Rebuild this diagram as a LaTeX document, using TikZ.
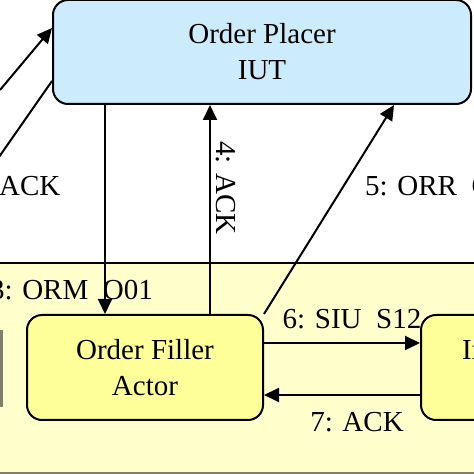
\documentclass[tikz,border=0pt]{standalone}
\usepackage{fontspec}
\setmainfont{Liberation Serif}
\usetikzlibrary{arrows.meta}
\begin{document}
\begin{tikzpicture}[x=1pt,y=1pt,
  every node/.style={font=\fontsize{29}{36}\selectfont},
  actor/.style={draw=neutralcolor,line width=2pt,rounded corners=15pt,align=center,inner sep=0pt},
  msg/.style={draw=neutralcolor,line width=2pt,-{Triangle[length=15pt,width=14pt]}},
  wire/.style={draw=neutralcolor,line width=2pt},
  msglabel/.style={inner sep=0pt}]
\definecolor{neutralcolor}{RGB}{0,0,0}
\definecolor{placercolor}{RGB}{204,236,251}
\definecolor{fillercolor}{RGB}{255,255,153}
\definecolor{background}{RGB}{255,255,204}
\definecolor{edgecolor}{RGB}{128,128,104}
\useasboundingbox (0,0) rectangle (474,474);
\fill [background] (0,0) rectangle (474,211);
\draw [wire] (0,211) -- (474,211);
\draw [edgecolor,line width=2.4pt] (0,1) -- (474,1);
\fill [edgecolor] (0,67) rectangle (3,144);
\node [actor,fill=placercolor,minimum width=418pt,minimum height=104pt] (placer) at (262,422) {Order Placer\\IUT};
\node [actor,fill=fillercolor,minimum width=236pt,minimum height=105pt] (filler) at (145,106.5) {Order Filler\\Actor};
\node [actor,fill=fillercolor,minimum width=236pt,minimum height=105pt] (manager) at (539,106.5) {};
\node [msglabel,anchor=west] (managertext) at (462,124) {Im};
\coordinate (ormx) at (105,0);
\coordinate (ackx) at (210,0);
\coordinate (orrx) at (394,0);
\coordinate (siuy) at (0,131);
\coordinate (acky) at (0,79);
\coordinate (lefta) at (0,384);
\coordinate (leftb) at (-1,317);
\draw (placer.south -| ormx) [msg] -- (filler.north -| ormx);
\draw (filler.north -| ackx) [msg] -- (placer.south -| ackx);
\draw (filler.north east) [msg] -- (placer.south -| orrx);
\draw (filler.east |- siuy) [msg] -- (manager.west |- siuy);
\draw (manager.west |- acky) [msg] -- (filler.east |- acky);
\draw (lefta) [msg] -- ([yshift=24pt]placer.west);
\draw (leftb) [wire] -- ([yshift=-29pt]placer.west);
\node [msglabel,anchor=west] (ackleft) at (-1,288) {ACK};
\node [msglabel,rotate=-90] (ackfour) at (226,286) {4: ACK};
\node [msglabel,anchor=west] (orrlabel) at (365,288) {5: ORR\ \ O};
\node [msglabel,anchor=east] (ormlabel) at (153,184) {3: ORM\ \ O01};
\node [msglabel] (siulabel) at (352,155) {6: SIU\ \ S12};
\node [msglabel] (ackseven) at (357,52) {7: ACK};
\end{tikzpicture}
\end{document}
